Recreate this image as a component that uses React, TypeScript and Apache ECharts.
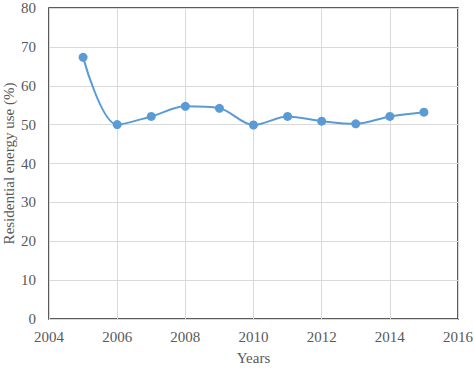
import React, { useEffect, useRef } from "react";
import * as echarts from "echarts";

const years = [2005, 2006, 2007, 2008, 2009, 2010, 2011, 2012, 2013, 2014, 2015];
const residentialUse = [67.3, 50.0, 52.1, 54.7, 54.2, 49.9, 52.1, 50.9, 50.2, 52.1, 53.2];

const FONT = "Liberation Serif";
const TEXT = "#595959";

export default function App() {
  const ref = useRef<HTMLDivElement>(null);
  useEffect(() => {
    if (!ref.current) return;
    const chart = echarts.init(ref.current, undefined, { renderer: "svg" });
    chart.setOption({
      animation: false,
      backgroundColor: "#ffffff",
      textStyle: { fontFamily: FONT },
      grid: {
        left: 49,
        right: 16,
        top: 8,
        bottom: 50,
        show: true,
        borderColor: "#262626",
        borderWidth: 1.5,
        containLabel: false,
        outerBoundsMode: "none",
      },
      xAxis: {
        type: "value",
        min: 2004,
        max: 2016,
        interval: 2,
        name: "Years",
        nameLocation: "middle",
        nameGap: 31,
        nameMoveOverlap: false,
        nameTextStyle: { color: TEXT, fontFamily: FONT, fontSize: 15 },
        axisLine: { show: false },
        axisTick: { show: false },
        axisLabel: {
          color: TEXT,
          fontFamily: FONT,
          fontSize: 15,
          margin: 10,
          formatter: (v: number) => String(v),
        },
        splitLine: { show: true, lineStyle: { color: "#d9d9d9", width: 1 } },
      },
      yAxis: {
        type: "value",
        min: 0,
        max: 80,
        interval: 10,
        name: "Residential energy use (%)",
        nameLocation: "middle",
        nameGap: 33,
        nameMoveOverlap: false,
        nameTextStyle: { color: TEXT, fontFamily: FONT, fontSize: 15 },
        axisLine: { show: false },
        axisTick: { show: false },
        axisLabel: {
          color: TEXT,
          fontFamily: FONT,
          fontSize: 15,
          margin: 13,
          formatter: (v: number) => String(v),
        },
        splitLine: { show: true, lineStyle: { color: "#d9d9d9", width: 1 } },
      },
      series: [
        {
          type: "line",
          data: years.map((y, i) => [y, residentialUse[i]]),
          smooth: 0.33,
          symbol: "circle",
          symbolSize: 9,
          itemStyle: { color: "#5B9BD5" },
          lineStyle: { color: "#5B9BD5", width: 2 },
        },
      ],
    });
    return () => chart.dispose();
  }, []);
  return (
    <div
      ref={ref}
      style={{ position: "fixed", left: 0, top: 0, width: 474, height: 369 }}
    />
  );
}
